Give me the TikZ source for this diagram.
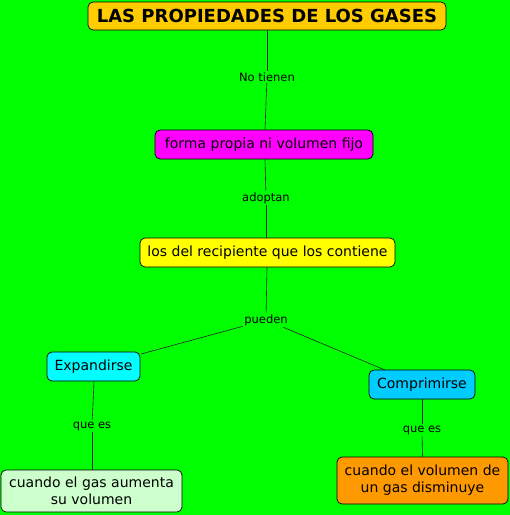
\documentclass[tikz,border=0pt]{standalone}
\usepackage{fontspec}
\setmainfont{DejaVu Sans}
\definecolor{bg}{HTML}{00FF00}
\definecolor{titlec}{HTML}{FFCC00}
\definecolor{magc}{HTML}{FF00FF}
\definecolor{yelc}{HTML}{FFFF00}
\definecolor{cyanc}{HTML}{00FFFF}
\definecolor{bluec}{HTML}{00CCFF}
\definecolor{lgreen}{HTML}{CCFFCC}
\definecolor{orangec}{HTML}{FF9900}
\begin{document}
\begin{tikzpicture}[x=1pt,y=-1pt,
  concept/.style={draw=black, line width=0.7pt, rounded corners=5pt, inner sep=0pt, align=center, font=\fontsize{14}{17}\selectfont},
  linklabel/.style={inner sep=1.5pt, font=\fontsize{11.5}{13}\selectfont},
  conn/.style={line width=0.6pt, draw=black!85}]
\fill[bg] (0,0) rectangle (510,515);
\useasboundingbox (0,0) rectangle (510,515);
\node[concept, fill=titlec, minimum width=358pt, minimum height=28pt, font=\fontsize{18}{21}\selectfont\bfseries] (title) at (267,16) {LAS PROPIEDADES DE LOS GASES};
\node[concept, fill=magc, minimum width=218pt, minimum height=29pt] (forma) at (264,144.5) {forma propia ni volumen fijo};
\node[concept, fill=yelc, minimum width=255pt, minimum height=29pt] (recip) at (267.5,252.5) {los del recipiente que los contiene};
\node[concept, fill=cyanc, minimum width=93pt, minimum height=29pt] (exp) at (93.5,366.5) {Expandirse};
\node[concept, fill=bluec, minimum width=106pt, minimum height=29pt] (comp) at (422,384.5) {Comprimirse};
\node[concept, fill=lgreen, minimum width=181pt, minimum height=42pt] (aum) at (91.5,491) {cuando el gas aumenta\\su volumen};
\node[concept, fill=orangec, minimum width=171pt, minimum height=47pt] (dis) at (422.5,480.5) {cuando el volumen de\\un gas disminuye};
\node[linklabel] (l1) at (267,77) {No tienen};
\node[linklabel] (l2) at (266,198) {adoptan};
\node[linklabel] (l3) at (266,320) {pueden};
\node[linklabel] (l4) at (92,426) {que es};
\node[linklabel] (l5) at (422,430) {que es};
\draw[conn] (title.south -| l1) -- (l1);
\draw[conn] (l1) -- (forma.north -| 265,0);
\draw[conn] (forma.south -| 265,0) -- (l2);
\draw[conn] (l2) -- (recip.north -| 266,0);
\draw[conn] (recip.south -| 267,0) -- (l3);
\draw[conn] (l3) -- (141,354);
\draw[conn] (l3) -- (385,370);
\draw[conn] (exp.south -| 94,0) -- (l4);
\draw[conn] (l4) -- (aum.north -| 92,0);
\draw[conn] (comp.south) -- (l5);
\draw[conn] (l5) -- (dis.north);
\end{tikzpicture}
\end{document}
